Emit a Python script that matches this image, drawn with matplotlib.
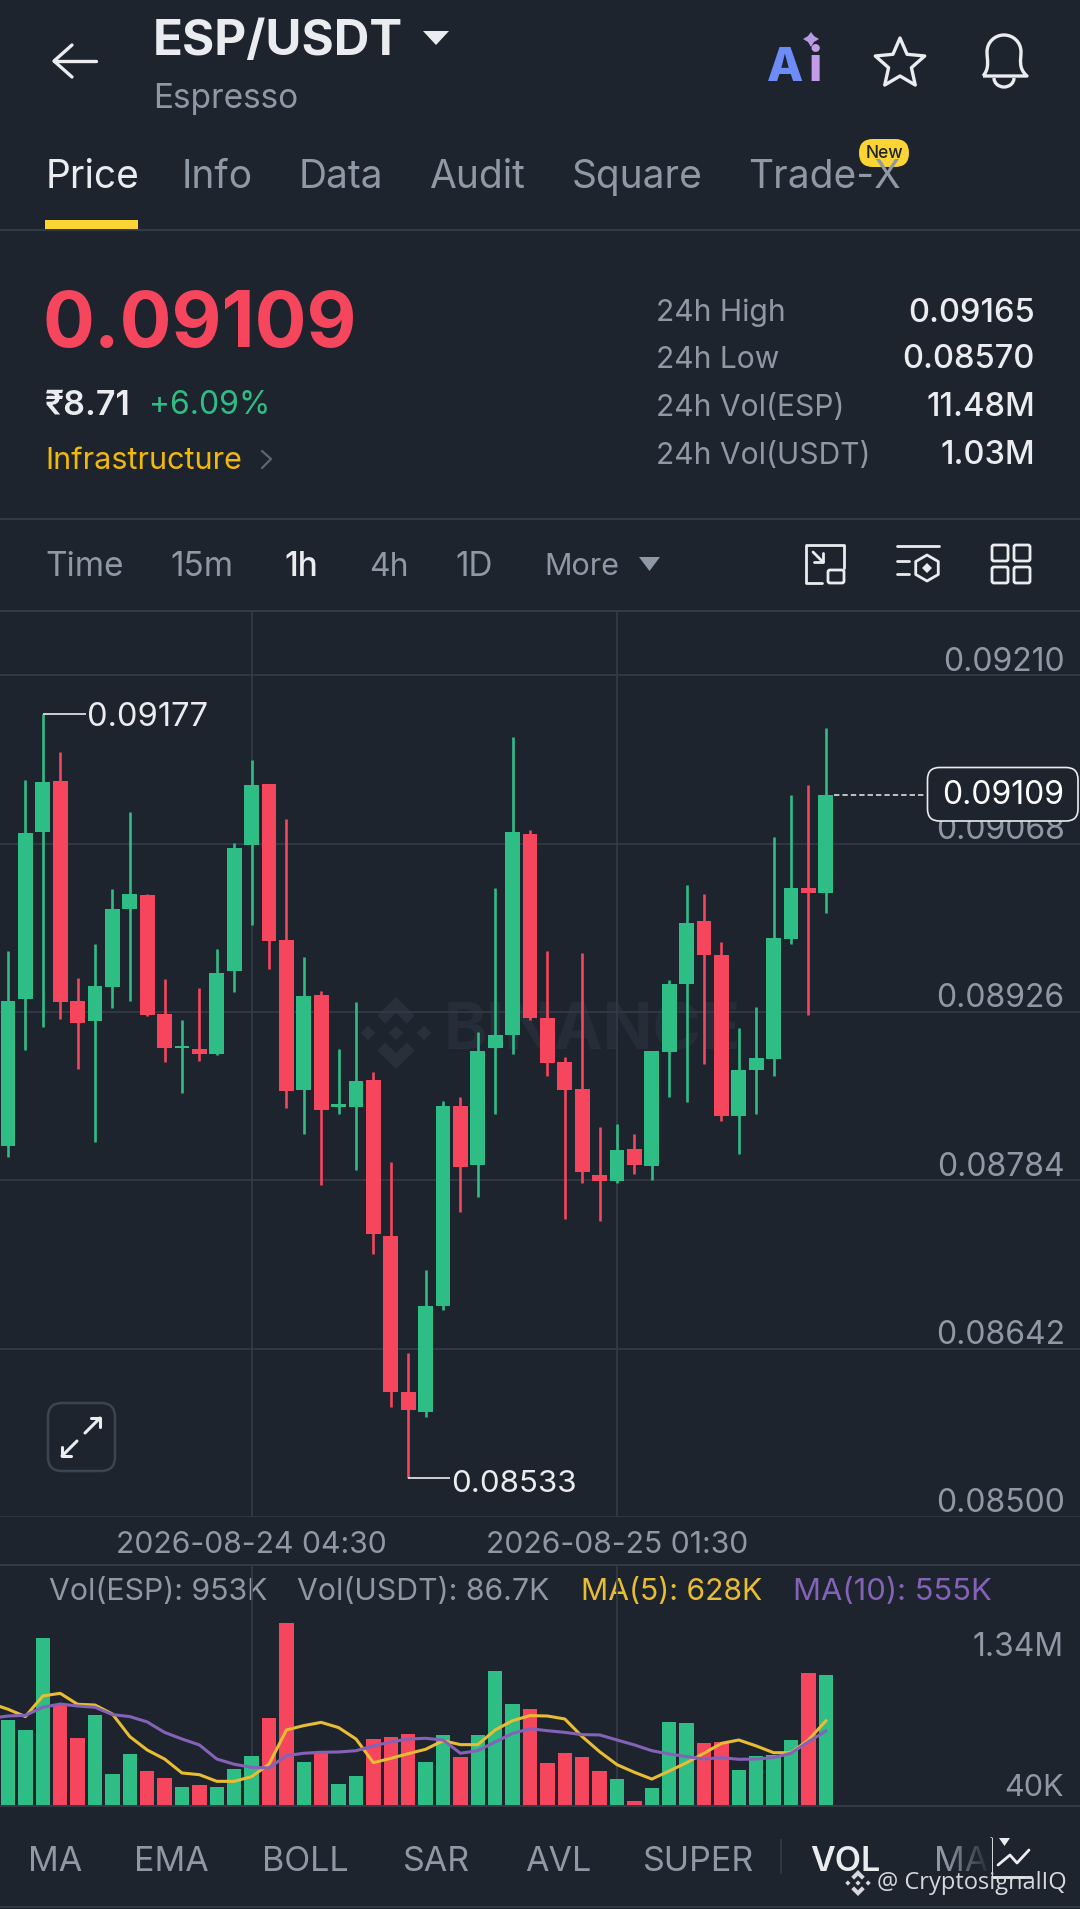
import numpy as np
import matplotlib
matplotlib.use("Agg")
import matplotlib.pyplot as plt
from matplotlib.patches import FancyBboxPatch, Polygon, Arc, PathPatch
from matplotlib.path import Path

plt.rcParams["font.family"] = ["Inter", "DejaVu Sans"]

# --- candles, 1h ---
opens = [0.088128, 0.089373, 0.09078, 0.09121, 0.089351, 0.089183, 0.089474, 0.090125,
         0.090248, 0.089241, 0.088957, 0.088951, 0.088902, 0.089606, 0.090671, 0.09118,
         0.089864, 0.088602, 0.089402, 0.08846, 0.08846, 0.088689, 0.087367, 0.086052,
         0.085889, 0.086777, 0.088469, 0.087969, 0.088954, 0.089064, 0.090758, 0.089212,
         0.088841, 0.088609, 0.087887, 0.087837, 0.088107, 0.087957, 0.088922, 0.089493,
         0.090025, 0.089741, 0.08838, 0.08877, 0.08886, 0.089874, 0.090303, 0.090264]
closes = [0.089354, 0.090768, 0.0912, 0.089341, 0.089164, 0.089483, 0.090125, 0.090258,
          0.089231, 0.088954, 0.088973, 0.088902, 0.089593, 0.090645, 0.091177, 0.089858,
          0.088593, 0.089393, 0.088434, 0.088483, 0.088676, 0.087387, 0.086052, 0.0859,
          0.086777, 0.088469, 0.087949, 0.088928, 0.08907, 0.090777, 0.089212, 0.088831,
          0.088602, 0.08791, 0.087837, 0.088098, 0.087966, 0.088928, 0.089499, 0.090012,
          0.089741, 0.088386, 0.088767, 0.08887, 0.089883, 0.090303, 0.090264, 0.09109]
highs = [0.089774, 0.091219, 0.09177, 0.091452, 0.089551, 0.089832, 0.090296, 0.090948,
         0.090258, 0.089541, 0.089193, 0.089464, 0.089793, 0.090684, 0.091387, 0.091187,
         0.090887, 0.089722, 0.089438, 0.088948, 0.089341, 0.088754, 0.087997, 0.086386,
         0.087086, 0.088511, 0.088543, 0.089089, 0.090303, 0.091581, 0.090793, 0.089774,
         0.08888, 0.089761, 0.08829, 0.088317, 0.088231, 0.088928, 0.089532, 0.090335,
         0.090258, 0.089854, 0.089122, 0.089299, 0.090735, 0.091087, 0.091177, 0.091658]
lows = [0.088037, 0.088941, 0.089135, 0.089202, 0.08878, 0.08816, 0.089293, 0.089351,
        0.089225, 0.088838, 0.08858, 0.088847, 0.0889, 0.089425, 0.089993, 0.089622,
        0.088451, 0.088231, 0.087799, 0.088399, 0.087928, 0.087221, 0.085931, 0.08533,
        0.085841, 0.086743, 0.087575, 0.087696, 0.088399, 0.088909, 0.089193, 0.088718,
        0.087516, 0.087817, 0.087494, 0.087817, 0.087896, 0.087845, 0.088547, 0.088499,
        0.088822, 0.088341, 0.088063, 0.088396, 0.088718, 0.089838, 0.089235, 0.090093]

# --- volume panel, thousands ---
volumes = [650, 579, 1234, 756, 520, 683, 265, 406, 288, 236, 177, 189, 177, 302, 397, 666,
           1340, 350, 418, 194, 253, 513, 532, 553, 350, 546, 385, 544, 997, 763, 728, 347,
           414, 390, 286, 231, 78, 170, 633, 626, 489, 494, 293, 395, 399, 506, 981, 967]
# first value of each MA sits just left of the screen edge
ma5 = [768, 726, 674, 820, 839, 761, 756, 692, 532, 437, 373, 274, 262, 215, 215, 248, 336,
       579, 610, 633, 596, 515, 347, 378, 411, 442, 503, 475, 475, 579, 645, 681, 678,
       657, 532, 425, 333, 279, 231, 288, 347, 414, 484, 508, 466, 418, 418, 508, 643]
ma10 = [662, 678, 683, 740, 763, 749, 740, 688, 674, 636, 562, 515, 473, 373, 336, 314, 310,
        397, 414, 421, 423, 432, 466, 494, 515, 520, 508, 414, 432, 494, 555, 588, 574,
        562, 546, 544, 508, 473, 432, 409, 390, 373, 383, 371, 373, 383, 414, 496, 572]

price_ticks = [0.09210, 0.09068, 0.08926, 0.08784, 0.08642, 0.08500]
date_pos = [14, 35]
date_labels = ["2026-08-24 04:30", "2026-08-25 01:30"]

tabs = ["Price", "Info", "Data", "Audit", "Square", "Trade-X"]
tab_x = [46, 182, 299, 429, 572, 748]
stat_names = ["24h High", "24h Low", "24h Vol(ESP)", "24h Vol(USDT)"]
stat_vals = ["0.09165", "0.08570", "11.48M", "1.03M"]
stat_y = [311, 358, 406, 454]
frames = ["Time", "15m", "1h", "4h", "1D", "More"]
frame_x = [45, 170, 284, 369, 455, 544]
frame_size = [24, 24, 24, 23, 24, 22]
nav = ["MA", "EMA", "BOLL", "SAR", "AVL", "SUPER", "VOL", "MA"]
nav_x = [28, 134, 262, 403, 525, 643, 810, 934]

BG = "#1E242E"
GRID = "#343B47"
GREEN = "#2EBD85"
RED = "#F6465D"
GREY = "#8F98A5"
WHITE = "#EAECEF"
YELLOW = "#F0B90B"
PURPLE = "#8462B8"

W, H = 1080, 1909
fig = plt.figure(figsize=(W / 100, H / 100), dpi=100, facecolor=BG)


def px_axes(x0, y0, x1, y1, z):
    a = fig.add_axes([x0 / W, 1 - y1 / H, (x1 - x0) / W, (y1 - y0) / H], zorder=z)
    a.patch.set_alpha(0)
    return a


def overlay(z):
    a = px_axes(0, 0, W, H, z)
    a.set_xlim(0, W)
    a.set_ylim(H, 0)
    a.axis("off")
    return a


ui = overlay(0)
top = overlay(5)


def label(a, x, y, s, size, color=GREY, weight="normal", ha="left", **kw):
    a.text(x, y + 3, s, fontsize=size, color=color, fontweight=weight, ha=ha, va="center", **kw)


def stroke(a, xs, ys, color=WHITE, lw=2.2):
    a.plot(xs, ys, color=color, lw=lw, solid_capstyle="round", solid_joinstyle="round")


def logo(a, cx, cy, r, color):
    # exchange mark: three small diamonds and two chevrons
    for dx in (-0.78, 0, 0.78):
        a.add_patch(Polygon([(cx + (dx + u) * r, cy + v * r) for u, v in
                             [(0, -.2), (.2, 0), (0, .2), (-.2, 0)]], color=color, lw=0))
    for s in (1, -1):
        pts = [(0, -1), (.52, -.48), (.3, -.26), (0, -.56), (-.3, -.26), (-.52, -.48)]
        a.add_patch(Polygon([(cx + u * r, cy + s * v * r) for u, v in pts], color=color, lw=0))


# --- header ---
stroke(ui, [96, 54], [61, 61], lw=2.4)
stroke(ui, [72, 54, 72], [45, 61, 77], lw=2.4)
label(ui, 153, 39, "ESP/USDT", 35.5, WHITE, "bold")
ui.add_patch(Polygon([(423, 31), (449, 31), (436, 45)], color=WHITE, lw=0))
label(ui, 153, 96, "Espresso", 24, GREY)
label(ui, 767, 66, "A", 34, "#6E8CF8", "heavy")
label(ui, 815, 66, "i", 34, "#C39BE6", "heavy", "center")
ui.add_patch(Polygon([(811, 32), (814, 36), (819, 39), (814, 42), (811, 47), (808, 42),
                      (803, 39), (808, 36)], color="#B49AE0", lw=0))
ang = np.deg2rad(np.arange(-90, 270, 36))
rad = np.tile([26, 12], 5)
ui.add_patch(Polygon(np.c_[900 + rad * np.cos(ang), 64 + rad * np.sin(ang)], closed=True,
                     fill=False, ec=WHITE, lw=2.4, joinstyle="round"))
bell = Path([(983, 76), (990, 68), (987, 60), (987, 52), (987, 42), (995, 35), (1004, 35),
             (1013, 35), (1021, 42), (1021, 52), (1021, 60), (1018, 68), (1027, 76), (983, 76)],
            [Path.MOVETO] + [Path.CURVE4] * 12 + [Path.LINETO])
ui.add_patch(PathPatch(bell, fill=False, ec=WHITE, lw=2.4, joinstyle="round"))
ui.add_patch(Arc((1004, 78), 20, 18, theta1=0, theta2=180, color=WHITE, lw=2.4))

# --- tabs ---
for i, (s, x) in enumerate(zip(tabs, tab_x)):
    label(ui, x, 175, s, 28, WHITE if i == 0 else GREY)
ui.fill_between([45, 138], 220, 229, color="#FCD535", lw=0)
ui.add_patch(FancyBboxPatch((859 + 14, 139 + 14), 22, 0, boxstyle="round,pad=14",
                            fc="#FCD535", ec="none"))
label(ui, 884, 150, "New", 12.5, "#1E2329", "medium", "center")
ui.plot([0, W], [229.5, 229.5], color=GRID, lw=1.4)

# --- quote block ---
label(ui, 43, 324, "0.09109", 55.5, RED, "bold")
label(ui, 45, 403, "₹8.71", 24.5, WHITE, "semibold")
label(ui, 149, 403, "+6.09%", 23, GREEN)
label(ui, 45, 458, "Infrastructure", 22, YELLOW)
stroke(ui, [262, 271, 262], [451, 459, 468], color="#5E6673", lw=1.6)
for s, v, y in zip(stat_names, stat_vals, stat_y):
    label(ui, 656, y - 1, s, 21.6, GREY)
    label(ui, 1035, y - 1, v, 23.5, WHITE, "medium", "right")
ui.plot([0, W], [519, 519], color=GRID, lw=1.4)

# --- timeframe row ---
for s, x, fs in zip(frames, frame_x, frame_size):
    label(ui, x, 564, s, fs, WHITE if s == "1h" else GREY, "medium" if s == "1h" else "normal")
ui.add_patch(Polygon([(639, 557), (660, 557), (649.5, 571)], color=GREY, lw=0))
stroke(ui, [822, 806, 806, 844, 844], [583, 583, 545, 545, 568], lw=2)
ui.add_patch(FancyBboxPatch((828, 570), 16, 13, boxstyle="round,pad=0,rounding_size=2",
                            fill=False, ec=WHITE, lw=2))
stroke(ui, [813, 823], [552, 562], lw=2)
stroke(ui, [823, 823, 814], [553, 562, 562], lw=2)
stroke(ui, [897, 939], [546, 546], lw=2)
stroke(ui, [897, 909], [561, 561], lw=2)
stroke(ui, [897, 909], [574, 574], lw=2)
hexa = np.deg2rad(np.arange(-90, 270, 60))
ui.add_patch(Polygon(np.c_[927 + 13 * np.cos(hexa), 568 + 13 * np.sin(hexa)], fill=False,
                     ec=WHITE, lw=2, joinstyle="round"))
ui.add_patch(Polygon([(927, 563), (932, 568), (927, 573), (922, 568)], color=WHITE, lw=0))
for x0 in (992, 1014):
    for y0 in (545, 567):
        ui.add_patch(FancyBboxPatch((x0, y0), 16, 16, boxstyle="round,pad=0,rounding_size=2",
                                    fill=False, ec=WHITE, lw=2))
ui.plot([0, W], [610.5, 610.5], color=GRID, lw=1.4)

# watermark under the candles
logo(ui, 396, 1033, 36, "#2A303B")
label(ui, 444, 1030, "BINANCE", 47, "#272D38", "bold")

# --- price panel ---
x = np.arange(len(closes))
x_right = (W - 8) / 17.4
ax = px_axes(0, 611, W, 1517, 2)
ax.set_xlim(-8 / 17.4, x_right)
ax.set_ylim(0.085004, 0.092643)
for s in ax.spines.values():
    s.set_visible(False)
ax.tick_params(left=False, bottom=False, labelleft=False, labelbottom=False)
ax.set_yticks(price_ticks)
ax.set_xticks(date_pos)
ax.grid(True, color=GRID, lw=1.2)
ax.set_axisbelow(True)

opens_a, closes_a = np.array(opens), np.array(closes)
colors = [GREEN if c >= o else RED for o, c in zip(opens, closes)]
ax.vlines(x, lows, highs, colors=colors, lw=1.9)
ax.bar(x, closes_a - opens_a, bottom=opens_a, width=0.84, color=colors, lw=0)

for p in price_ticks:
    ax.annotate(f"{p:.5f}", xy=(1, p), xycoords=("axes fraction", "data"), xytext=(-11, 9.5),
                textcoords="offset points", ha="right", va="center", fontsize=23, color=GREY)
for i, s in zip(date_pos, date_labels):
    ax.annotate(s, xy=(i, 0), xycoords=("data", "axes fraction"), xytext=(0, -20.5),
                textcoords="offset points", ha="center", va="center", fontsize=21.7, color=GREY)

# max / min markers
ax.hlines(max(highs), 2, 4.5, color=WHITE, lw=1.2)
ax.annotate(f"{max(highs):.5f}", xy=(4.55, max(highs)), xytext=(0, -2), textcoords="offset points",
            fontsize=23.5, color=WHITE, va="center")
ax.hlines(min(lows), 23, 25.4, color=WHITE, lw=1.2)
ax.annotate(f"{min(lows):.5f}", xy=(25.45, min(lows)), xytext=(0, -4.5), textcoords="offset points",
            fontsize=22.5, color=WHITE, va="center")
ax.hlines(closes[-1], 47.45, 52.7, color=WHITE, lw=1.1, linestyles=(0, (3.5, 2)))

top.add_patch(FancyBboxPatch((927.5, 767.5), 150.5, 53.5, boxstyle="round,pad=0,rounding_size=12",
                             fc=BG, ec=WHITE, lw=1.2))
label(top, 1064, 792, f"{closes[-1]:.5f}", 23, "#FFFFFF", ha="right")

# fullscreen button
ui.add_patch(FancyBboxPatch((48, 1403), 67, 68, boxstyle="round,pad=0,rounding_size=14",
                            fill=False, ec="#3C4450", lw=1.8))
stroke(ui, [85, 100], [1433, 1418], lw=2.2)
stroke(ui, [91, 100, 100], [1418, 1418, 1427], lw=2.2)
stroke(ui, [77, 62], [1441, 1456], lw=2.2)
stroke(ui, [62, 62, 71], [1447, 1456, 1456], lw=2.2)

# --- volume panel ---
ui.plot([0, W], [1565, 1565], color=GRID, lw=1.4)
label(ui, 49, 1589, "Vol(ESP): 953K", 21.8, GREY)
label(ui, 297, 1589, "Vol(USDT): 86.7K", 21.8, GREY)
label(ui, 581, 1589, "MA(5): 628K", 21.7, "#E8BC33")
label(ui, 793, 1589, "MA(10): 555K", 22.3, PURPLE)

axv = px_axes(0, 1565, W, 1806, 3)
axv.set_xlim(-8 / 17.4, x_right)
axv.set_ylim(40, 40 + 241 * 7.09)
for s in axv.spines.values():
    s.set_visible(False)
axv.spines["bottom"].set_visible(True)
axv.spines["bottom"].set_color(GRID)
axv.spines["bottom"].set_linewidth(1.4)
axv.tick_params(left=False, bottom=False, labelleft=False, labelbottom=False)
axv.set_yticks([])
axv.set_xticks(date_pos)
axv.grid(True, axis="x", color=GRID, lw=1.2)
axv.set_axisbelow(True)
axv.bar(x, volumes, width=0.82, color=colors, lw=0)
x_ma = np.arange(-1, len(closes))
axv.plot(x_ma, ma5, color="#E8BC33", lw=2.2)
axv.plot(x_ma, ma10, color=PURPLE, lw=2.2)
label(top, 1064, 1644, "1.34M", 23, GREY, ha="right")
label(top, 1064, 1785, "40K", 22, GREY, ha="right")

# --- bottom indicator row ---
for s, xp in zip(nav, nav_x):
    on = s == "VOL"
    label(ui, xp, 1859, s, 24.5, WHITE if on else GREY, "semibold" if on else "normal")
ui.plot([781, 781], [1840, 1873], color=GRID, lw=1.2)
fade = np.zeros((1, 40, 4))
fade[..., :3] = matplotlib.colors.to_rgb(BG)
fade[..., 3] = np.linspace(0, 1, 40)
ui.imshow(fade, extent=(945, 992, 1880, 1838), aspect="auto", zorder=3)
ui.set_xlim(0, W)
ui.set_ylim(H, 0)
stroke(ui, [991, 991, 1031], [1838, 1877, 1877], lw=2)
stroke(ui, [998, 1010, 1017, 1029], [1865, 1855, 1863, 1850], lw=2)
ui.add_patch(Polygon([(999, 1838), (1010, 1838), (1004.5, 1846)], color=WHITE, lw=0))
logo(ui, 858, 1883, 13, "#D5D8DC")
label(ui, 877, 1880, "@ CryptosignalIQ", 17, "#D5D8DC", family=["Open Sans", "DejaVu Sans"])
ui.plot([0, W], [1907, 1907], color=GRID, lw=1.2)

fig.savefig("out.png", dpi=100, facecolor=BG)
